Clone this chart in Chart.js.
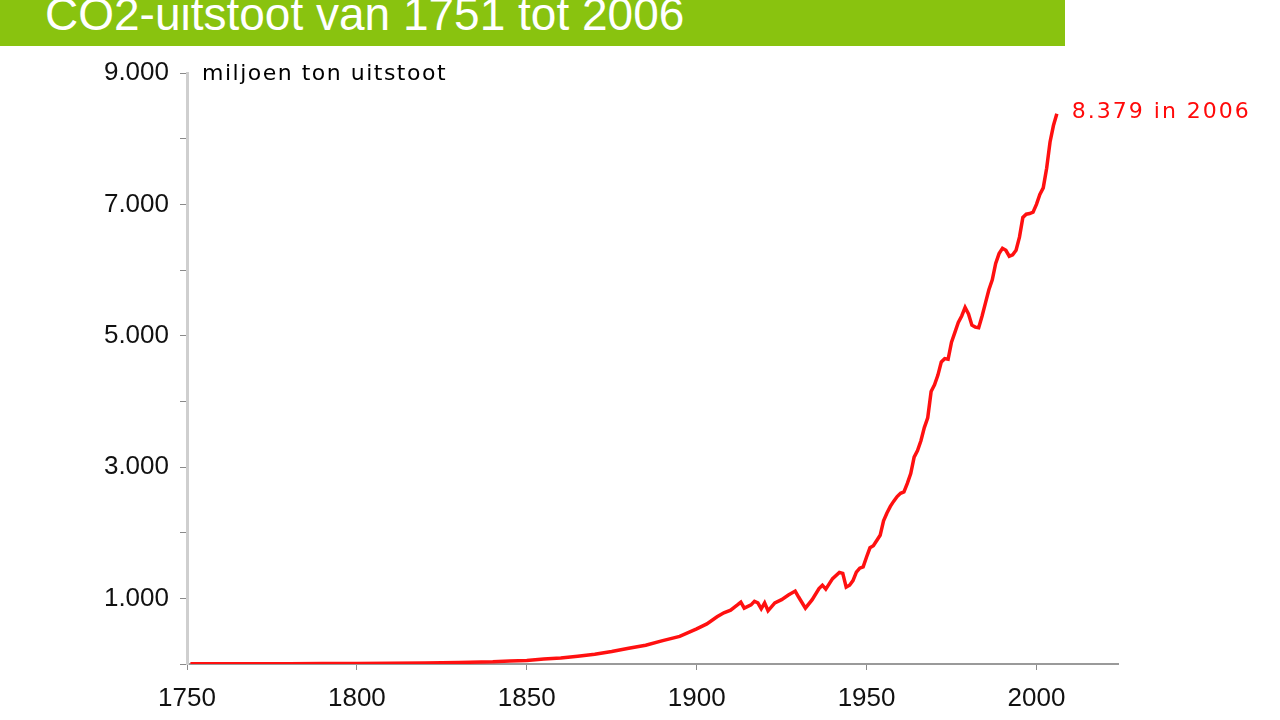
<!DOCTYPE html>
<html>
<head>
<meta charset="utf-8">
<script src="https://cdn.jsdelivr.net/npm/chart.js@4.4.1/dist/chart.umd.min.js"></script>
<style>
    html, body { margin: 0; padding: 0; background: #fff; }
    #wrap { position: relative; width: 1280px; height: 720px; overflow: hidden; }
    #banner {
        position: absolute; left: 0; top: 0; width: 1065px; height: 46px;
        background: #89c30f; overflow: hidden;
    }
    #banner span {
        position: absolute; left: 45px; top: -13px;
        font-family: 'Liberation Sans', Arial, sans-serif; font-size: 46px;
        color: #fff; white-space: nowrap;
    }
    #chart { position: absolute; left: 0; top: 0; }
</style>
</head>
<body>
<div id="wrap">
    <canvas id="chart" width="1280" height="720"></canvas>
    <div id="banner"><span>CO2-uitstoot van 1751 tot 2006</span></div>
</div>
<script>
// miljoen ton uitstoot per jaar
const years = [
    1751, 1760, 1770, 1780, 1790, 1800, 1810, 1820, 1830, 1840,
    1845, 1850, 1855, 1860, 1865, 1870, 1875, 1880, 1885, 1890,
    1895, 1900, 1903, 1906, 1908, 1910, 1912, 1913, 1914, 1916,
    1917, 1918, 1919, 1920, 1921, 1923, 1925, 1927, 1929, 1930,
    1932, 1934, 1936, 1937, 1938, 1940, 1942, 1943, 1944, 1945,
    1946, 1947, 1948, 1949, 1950, 1951, 1952, 1953, 1954, 1955,
    1956, 1957, 1958, 1959, 1960, 1961, 1962, 1963, 1964, 1965,
    1966, 1967, 1968, 1969, 1970, 1971, 1972, 1973, 1974, 1975,
    1976, 1977, 1978, 1979, 1980, 1981, 1982, 1983, 1984, 1985,
    1986, 1987, 1988, 1989, 1990, 1991, 1992, 1993, 1994, 1995,
    1996, 1997, 1998, 1999, 2000, 2001, 2002, 2003, 2004, 2005,
    2006
];
const emissions = [
    3, 3, 4, 5, 7, 8, 10, 14, 24, 33,
    45, 54, 75, 91, 118, 150, 190, 240, 285, 356,
    420, 534, 610, 720, 780, 819, 900, 943, 850, 900,
    955, 930, 840, 930, 810, 930, 980, 1050, 1110, 1020,
    850, 980, 1150, 1200, 1140, 1300, 1395, 1380, 1170, 1200,
    1270, 1400, 1460, 1480, 1630, 1770, 1800, 1880, 1960, 2180,
    2300, 2400, 2480, 2550, 2600, 2620, 2750, 2900, 3150, 3250,
    3400, 3600, 3750, 4150, 4250, 4400, 4600, 4650, 4640, 4900,
    5050, 5200, 5300, 5430, 5330, 5160, 5130, 5120, 5300, 5500,
    5700, 5850, 6100, 6250, 6330, 6300, 6210, 6230, 6300, 6500,
    6800, 6850, 6860, 6880, 7000, 7150, 7250, 7550, 7950, 8200,
    8379
];
const yLabelTicks = [1000, 3000, 5000, 7000, 9000];
const xLabelTicks = [1750, 1800, 1850, 1900, 1950, 2000];

const formatNL = (v) => v.toLocaleString('nl-NL');

const textPlugin = {
    id: 'extraText',
    afterDraw(c) {
        const ctx = c.ctx;
        const area = c.chartArea;
        ctx.save();
        // eenheid bovenaan de y-as
        ctx.font = '22px "DejaVu Sans", Verdana, sans-serif';
        ctx.letterSpacing = '1.5px';
        ctx.fillStyle = '#000';
        ctx.textAlign = 'left';
        ctx.textBaseline = 'alphabetic';
        ctx.fillText('miljoen ton uitstoot', area.left + 15, 80);
        // label bij de laatste waarde
        const lastYear = years[years.length - 1];
        const lastVal = emissions[emissions.length - 1];
        const px = c.scales.x.getPixelForValue(lastYear);
        const py = c.scales.y.getPixelForValue(lastVal);
        ctx.letterSpacing = '2px';
        ctx.fillStyle = '#ff0a0a';
        ctx.fillText(formatNL(lastVal) + ' in ' + lastYear, px + 15, py + 4);
        ctx.restore();
    }
};

const ctx = document.getElementById('chart').getContext('2d');

new Chart(ctx, {
    type: 'line',
    data: {
        datasets: [{
            label: 'CO2-uitstoot',
            data: years.map((y, i) => ({x: y, y: emissions[i]})),
            borderColor: '#ff1010',
            borderWidth: 3.5,
            pointRadius: 0,
            tension: 0,
            fill: false,
        }],
    },
    options: {
        responsive: false,
        animation: false,
        layout: {
            padding: {top: 73, right: 162, bottom: 0, left: 0},
        },
        scales: {
            x: {
                type: 'linear',
                min: 1750,
                max: 2024,
                afterFit: (scale) => { scale.height = 56; },
                border: {color: '#9a9a9a', width: 2},
                grid: {
                    drawOnChartArea: false,
                    drawTicks: true,
                    tickLength: 6,
                    tickColor: '#8a8a8a',
                },
                ticks: {
                    stepSize: 50,
                    includeBounds: false,
                    padding: 13,
                    color: '#111',
                    font: {family: '"Liberation Sans", Arial, sans-serif', size: 26},
                    callback: (v) => xLabelTicks.includes(v) ? String(v) : '',
                    maxRotation: 0,
                    autoSkip: false,
                },
            },
            y: {
                min: 0,
                max: 9000,
                afterFit: (scale) => { scale.width = 187; },
                border: {color: '#cfcfcf', width: 3},
                grid: {
                    drawOnChartArea: false,
                    drawTicks: true,
                    tickLength: 7,
                    tickColor: '#8a8a8a',
                },
                ticks: {
                    stepSize: 1000,
                    padding: 11,
                    color: '#111',
                    font: {family: '"Liberation Sans", Arial, sans-serif', size: 26},
                    callback: (v) => yLabelTicks.includes(v) ? formatNL(v) : '',
                    autoSkip: false,
                },
            },
        },
        plugins: {
            legend: {display: false},
            tooltip: {enabled: false},
        },
    },
    plugins: [textPlugin],
});
</script>
</body>
</html>
